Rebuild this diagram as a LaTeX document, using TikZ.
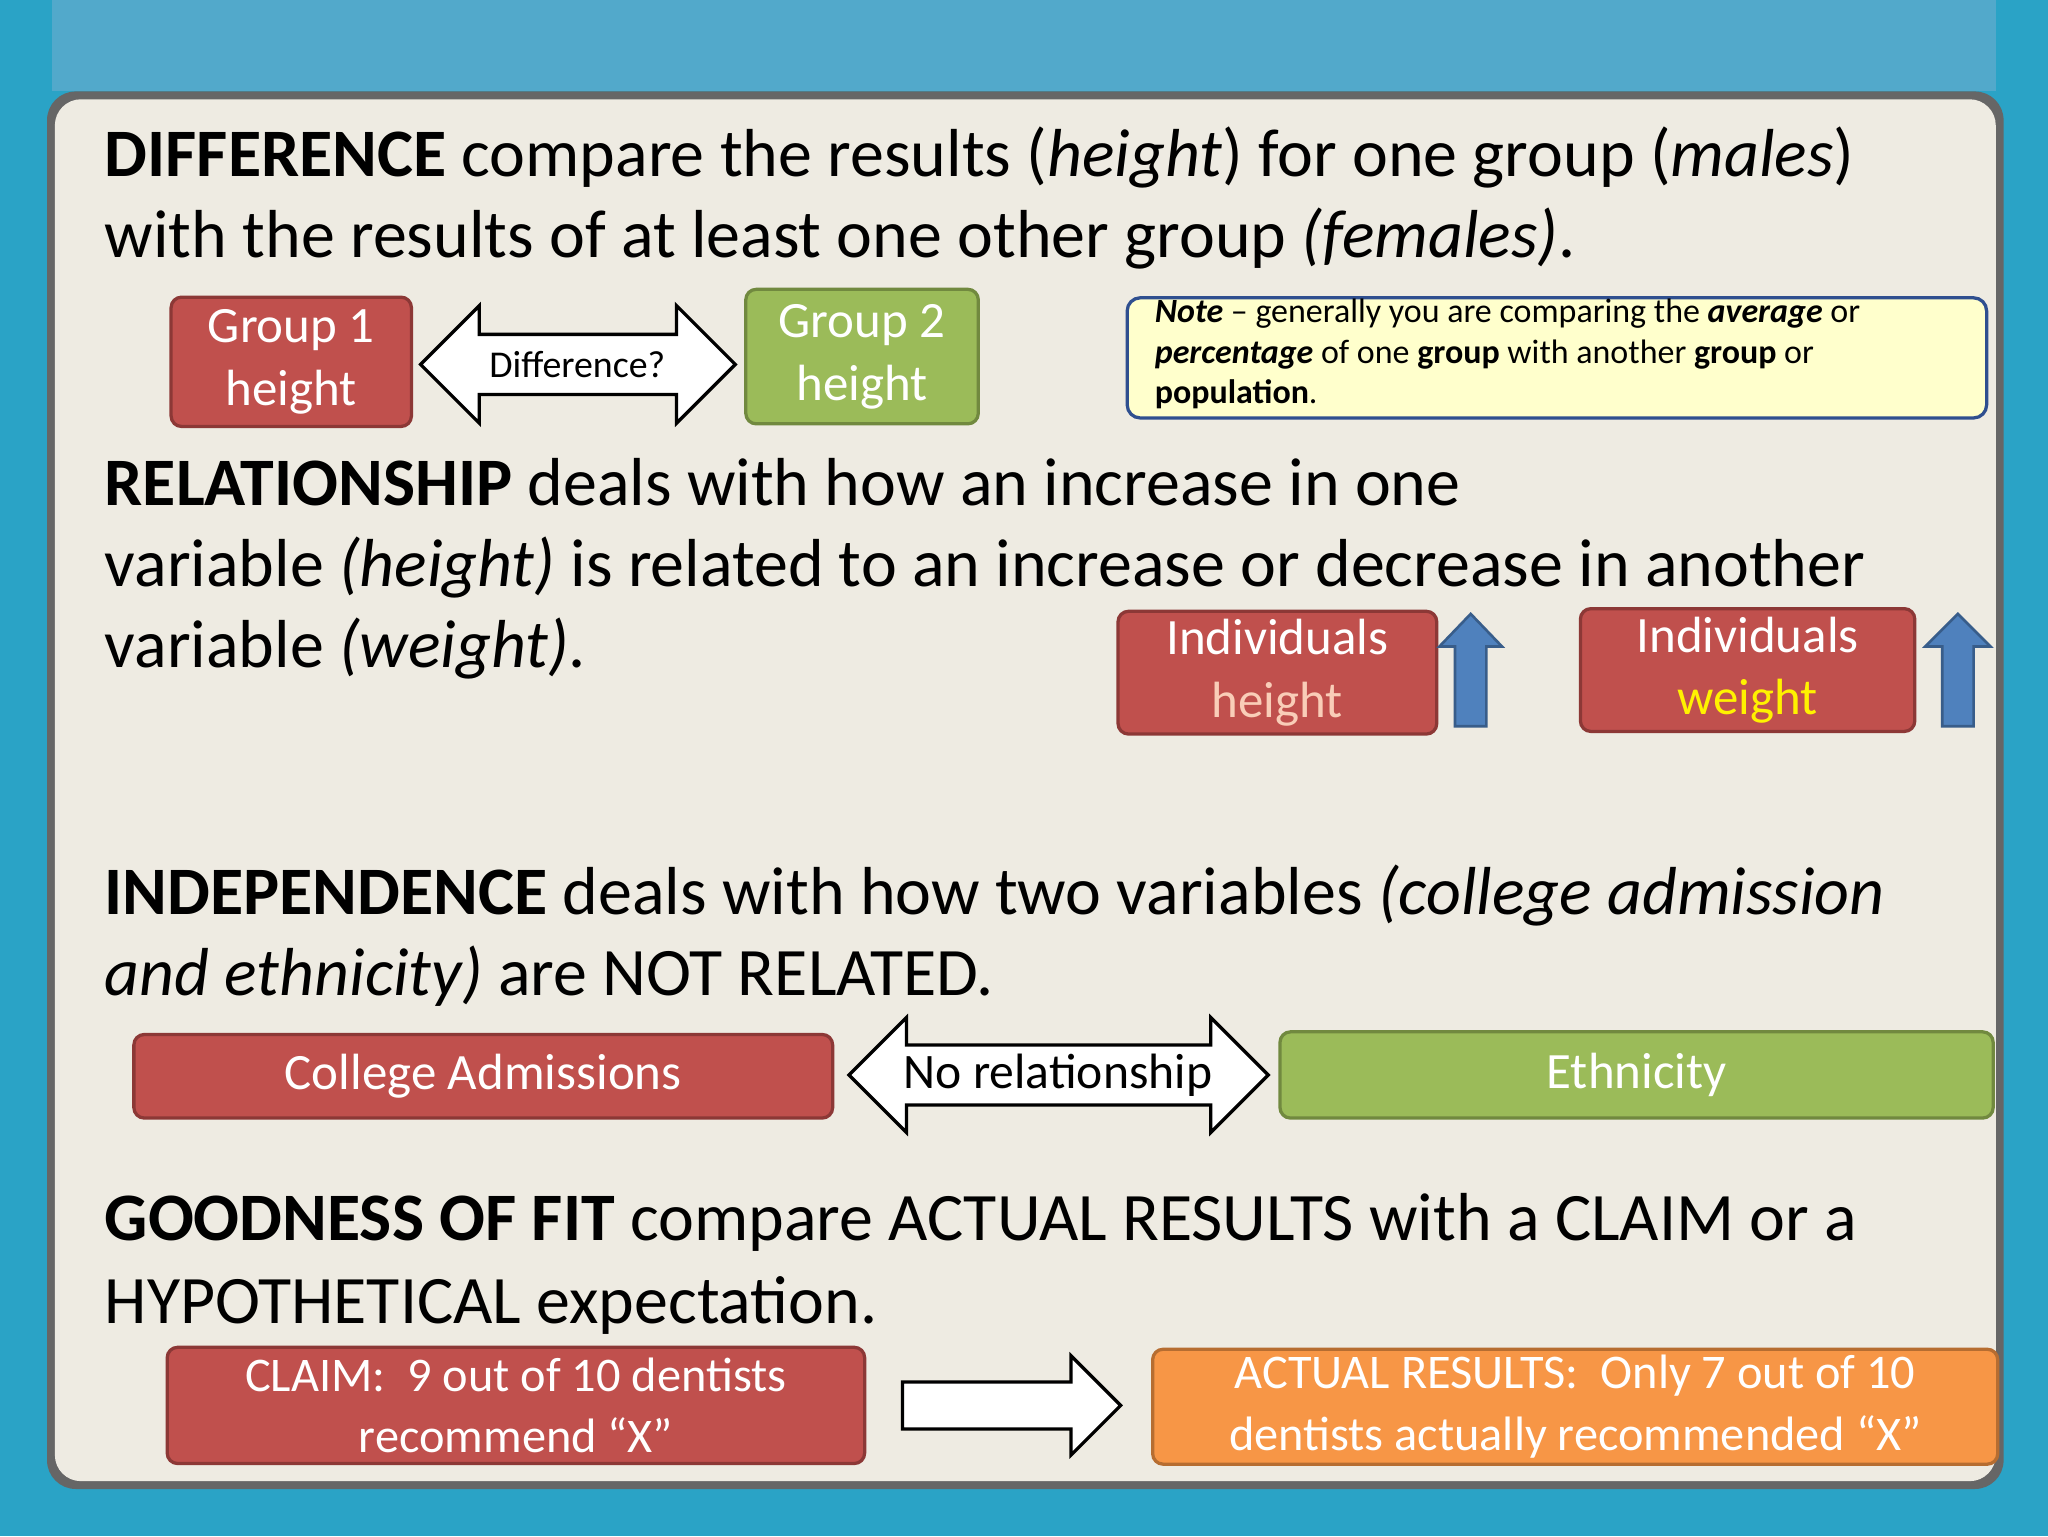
\documentclass[tikz,border=0pt]{standalone}
\usepackage{fontspec}
\setmainfont{Carlito}
\definecolor{bgblue}{HTML}{2AA3C6}
\definecolor{topblue}{HTML}{52A9CB}
\definecolor{panel}{HTML}{EEEBE2}
\definecolor{redf}{HTML}{C0504D}
\definecolor{redd}{HTML}{8C3836}
\definecolor{greenf}{HTML}{9BBB59}
\definecolor{greend}{HTML}{71893F}
\definecolor{orangef}{HTML}{F79646}
\definecolor{oranged}{HTML}{B66D31}
\definecolor{bluef}{HTML}{4F81BD}
\definecolor{blued}{HTML}{385D8A}
\definecolor{notef}{HTML}{FFFFCC}
\definecolor{noted}{HTML}{2F4F8F}
\definecolor{pinkt}{HTML}{F9CDB8}
\begin{document}
\begin{tikzpicture}[x=1pt,y=-1pt,
  hd/.style={anchor=base west,inner sep=0pt,font=\fontsize{52}{60}\selectfont},
  bt/.style={font=\fontsize{39}{48}\selectfont},
  rbox/.style={draw=redd,fill=redf,line width=2.5pt,rounded corners=8pt,text=white,bt},
  gbox/.style={draw=greend,fill=greenf,line width=2.5pt,rounded corners=8pt,text=white,bt},
  obox/.style={draw=oranged,fill=orangef,line width=2.5pt,rounded corners=8pt,text=white,bt},
  arr/.style={draw=black,fill=white,line width=2.5pt,line join=miter},
  uparr/.style={draw=blued,fill=bluef,line width=2pt}]
\useasboundingbox (0,0) rectangle (1568,1176);
\fill[bgblue] (0,0) rectangle (1568,1176);
\fill[topblue] (40,0) rectangle (1528,70);
\fill[black!60,rounded corners=22pt] (36,70) rectangle (1534,1140);
\fill[panel,rounded corners=20pt] (42,76) rectangle (1528,1134);

\node[hd] (d1) at (80,135) {\textbf{DIFFERENCE} compare the results (\textit{height}) for one group (\textit{males})};
\node[hd] (d2) at (80,197) {with the results of at least one other group \textit{(females)}.};

\node[rbox,minimum width=184pt,minimum height=99pt,align=center] (g1) at (223,277) {Group 1\\height};
\node[gbox,minimum width=178pt,minimum height=103pt,align=center] (g2) at (660,273) {Group 2\\height};
\draw[arr] (322,279) -- (367,234) -- (367,256) -- (518,256) -- (518,234) -- (563,279) -- (518,324) -- (518,302) -- (367,302) -- (367,324) -- cycle;
\node[font=\fontsize{29}{32}\selectfont] (dq) at (442,279) {Difference?};

\node[draw=noted,fill=notef,line width=2.5pt,rounded corners=10pt,minimum width=658pt,minimum height=92pt] (note) at (1192,274) {};
\node[anchor=north west,align=left,inner sep=0pt,font=\fontsize{26}{31}\selectfont] (notet) at (884,229) {\textbf{\textit{Note}} -- generally you are comparing the \textbf{\textit{average}} or\\\textbf{\textit{percentage}} of one \textbf{group} with another \textbf{group} or\\\textbf{population}.};

\node[hd] (r1) at (80,387) {\textbf{RELATIONSHIP} deals with how an increase in one};
\node[hd] (r2) at (80,449) {variable \textit{(height)} is related to an increase or decrease in another};
\node[hd] (r3) at (80,511) {variable \textit{(weight)}.};

\node[rbox,minimum width=244pt,minimum height=94pt,align=center] (ih) at (978,515) {Individuals\\\textcolor{pinkt}{height}};
\node[rbox,minimum width=256pt,minimum height=94pt,align=center] (iw) at (1338,513) {Individuals\\\textcolor{yellow}{weight}};
\draw[uparr] (1114,556) -- (1114,495) -- (1102,495) -- (1126,470) -- (1150,495) -- (1138,495) -- (1138,556) -- cycle;
\draw[uparr] (1487,556) -- (1487,495) -- (1474,495) -- (1499,470) -- (1524,495) -- (1511,495) -- (1511,556) -- cycle;

\node[hd] (i1) at (80,700) {\textbf{INDEPENDENCE} deals with how two variables \textit{(college admission}};
\node[hd] (i2) at (80,762) {\textit{and ethnicity)} are NOT RELATED.};

\node[rbox,minimum width=535pt,minimum height=64pt] (ca) at (370,824) {College Admissions};
\node[gbox,minimum width=546pt,minimum height=66pt] (eth) at (1253,823) {Ethnicity};
\draw[arr] (650,823) -- (694,779) -- (694,800) -- (927,800) -- (927,779) -- (971,823) -- (927,867) -- (927,846) -- (694,846) -- (694,867) -- cycle;
\node[font=\fontsize{38}{42}\selectfont] (nr) at (810,823) {No relationship};

\node[hd] (f1) at (80,950) {\textbf{GOODNESS OF FIT} compare ACTUAL RESULTS with a CLAIM or a};
\node[hd] (f2) at (80,1013) {HYPOTHETICAL expectation.};

\node[rbox,minimum width=534pt,minimum height=89pt,align=center,font=\fontsize{37}{47}\selectfont] (cl) at (395,1076) {CLAIM:\ \ 9 out of 10 dentists\\recommend “X”};
\node[obox,minimum width=647pt,minimum height=88pt,align=center,font=\fontsize{37}{47}\selectfont] (ac) at (1206,1077) {ACTUAL RESULTS:\ \ Only 7 out of 10\\dentists actually recommended “X”};
\draw[arr] (691,1058) -- (820,1058) -- (820,1038) -- (858,1076) -- (820,1114) -- (820,1094) -- (691,1094) -- cycle;
\end{tikzpicture}
\end{document}
